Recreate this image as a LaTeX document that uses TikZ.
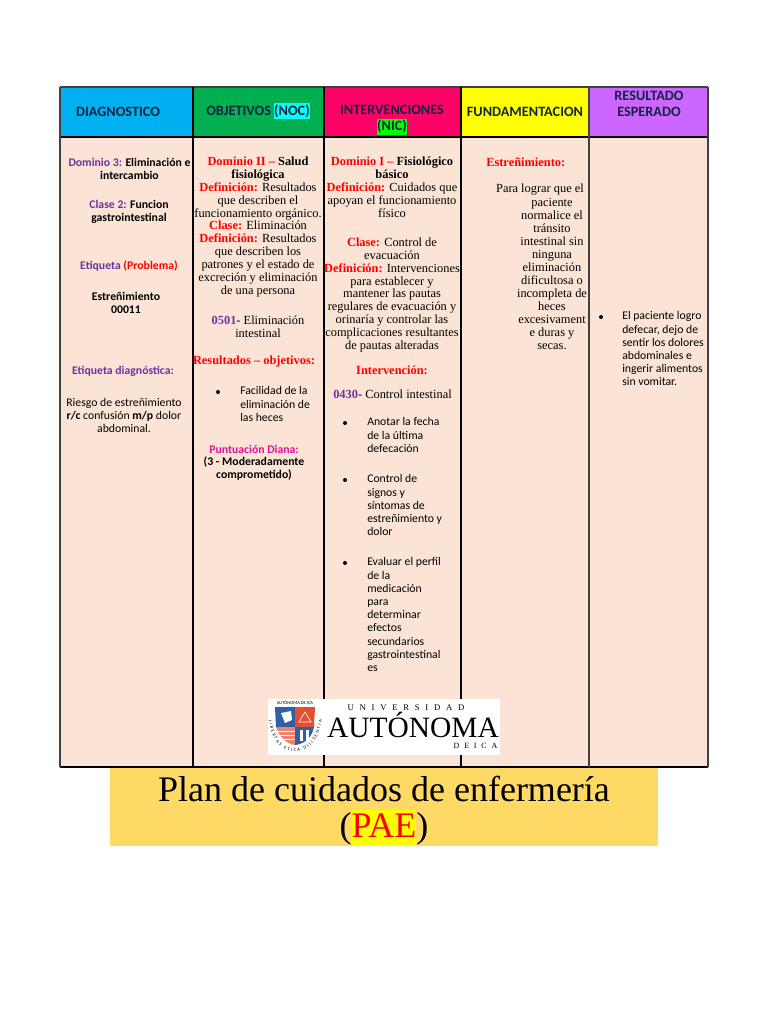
\documentclass[tikz,border=0pt]{standalone}
\usepackage{fontspec}
\usepackage{tikz}
\usetikzlibrary{decorations.text}
\setmainfont{Liberation Serif}
\newfontfamily\bodysans{Carlito}
\definecolor{bluehead}{HTML}{00B0F0}
\definecolor{greenhead}{HTML}{00B050}
\definecolor{pinkhead}{HTML}{FF0066}
\definecolor{yellowhead}{HTML}{FFFF00}
\definecolor{purplehead}{HTML}{CC66FF}
\definecolor{peachcell}{HTML}{FBE4D5}
\definecolor{goldtitle}{HTML}{FFD966}
\definecolor{headink}{HTML}{10253F}
\definecolor{violetink}{HTML}{7030A0}
\definecolor{magentaink}{HTML}{E0109A}
\definecolor{crestblue}{HTML}{2F5FA8}
\definecolor{crestred}{HTML}{E2502F}
\definecolor{nocmark}{HTML}{00FFFF}
\definecolor{nicmark}{HTML}{00FF00}
\newcommand{\hltext}[2]{{\setlength{\fboxsep}{0pt}\colorbox{#1}{#2}}}
\newcommand{\redb}[1]{\textbf{\textcolor{red}{#1}}}
\newcommand{\vlt}[1]{\textbf{\textcolor{violetink}{#1}}}
\tikzset{headtext/.style = {inner sep = 0, align = center, text = headink, font = \bodysans\bfseries\fontsize{10.7}{12}\selectfont}}
\tikzset{sanstext/.style = {inner sep = 0, align = center, font = \bodysans\fontsize{8.8}{9.9}\selectfont}}
\tikzset{seriftext/.style = {inner sep = 0, align = center, font = \fontsize{9.3}{9.7}\selectfont}}
\tikzset{listtext/.style = {sanstext, align = left, anchor = north west}}
\tikzset{bulletmark/.style = {fill, circle, inner sep = 0, minimum size = 3}}
\begin{document}
\begin{tikzpicture}[x = 0.75pt, y = -0.75pt]
    \useasboundingbox (0, 0) rectangle (768, 1024);

    \fill [peachcell] (60, 137) rectangle (708, 767);
    \fill [bluehead] (60, 87) rectangle (193, 137);
    \fill [greenhead] (193, 87) rectangle (324, 137);
    \fill [pinkhead] (324, 87) rectangle (461, 137);
    \fill [yellowhead] (461, 87) rectangle (589, 137);
    \fill [purplehead] (589, 87) rectangle (708, 137);
    \draw [line width = 0.8pt, black!75] (60, 87) -- (708, 87);
    \draw [line width = 1.1pt] (60, 137) -- (708, 137);
    \draw [line width = 1.1pt] (60, 767) -- (708, 767);
    \draw [line width = 1pt, black!75] (60, 87) -- (60, 767);
    \draw [line width = 1.1pt] (193, 87) -- (193, 767);
    \draw [line width = 1.1pt] (324, 87) -- (324, 767);
    \draw [line width = 1.1pt] (461, 87) -- (461, 767);
    \draw [line width = 0.8pt, black!75] (589, 87) -- (589, 767);
    \draw [line width = 0.8pt, black!75] (708, 87) -- (708, 767);

    \node [headtext] (diaghead) at (118, 112) {DIAGNOSTICO};
    \node [headtext] (objhead) at (258, 111) {OBJETIVOS \hltext{nocmark}{\rule[-3pt]{0pt}{12pt}(NOC)}};
    \node [headtext, text width = 130pt] (inthead) at (392, 120) {INTERVENCIONES\\\hltext{nicmark}{\rule[-3pt]{0pt}{12pt}(NIC)}};
    \node [headtext] (funhead) at (525, 112) {FUNDAMENTACION};
    \node [headtext] (reshead) at (649, 104) {RESULTADO\\ESPERADO};

    \node [sanstext] (dominiotres) at (129.5, 169) {\vlt{Dominio 3:} \textbf{Eliminación e}\\\textbf{intercambio}};
    \node [sanstext] (clasedos) at (129, 212) {\vlt{Clase 2:} \textbf{Funcion}\\\textbf{gastrointestinal}};
    \node [sanstext] (etiqueta) at (129, 266.5) {\vlt{Etiqueta} \redb{(Problema)}};
    \node [sanstext] (problema) at (126, 303) {\textbf{Estreñimiento}\\\textbf{00011}};
    \node [sanstext] (etiquetadiag) at (123, 371.5) {\vlt{Etiqueta diagnóstica:}};
    \node [sanstext] (riesgo) at (124, 415.5) {Riesgo de estreñimiento\\\textbf{r/c} confusión \textbf{m/p} dolor\\abdominal.};

    \node [seriftext] (dominiodos) at (258, 227) {\redb{Dominio II –} \textbf{Salud}\\\textbf{fisiológica}\\\redb{Definición:} Resultados\\que describen el\\funcionamiento orgánico.\\\redb{Clase:} Eliminación\\\redb{Definición:} Resultados\\que describen los\\patrones y el estado de\\excreción y eliminación\\de una persona};
    \node [seriftext] (noccode) at (258, 327) {\vlt{0501}- Eliminación\\intestinal};
    \node [seriftext] (resultados) at (254, 362) {\redb{Resultados – objetivos:}};
    \node [bulletmark] (factbullet) at (218, 392) {};
    \node [listtext] (facilidad) at (240, 386.5) {Facilidad de la\\eliminación de\\las heces};
    \node [sanstext] (puntuacion) at (254, 449) {\textbf{\textcolor{magentaink}{Puntuación Diana:}}};
    \node [sanstext] (diana) at (254, 468.5) {\textbf{(3 - Moderadamente}\\\textbf{comprometido)}};

    \node [seriftext] (dominiouno) at (392, 187.5) {\redb{Dominio I –} \textbf{Fisiológico}\\\textbf{básico}\\\redb{Definición:} Cuidados que\\apoyan el funcionamiento\\físico};
    \node [seriftext] (claseint) at (392, 295) {\redb{Clase:} Control de\\evacuación\\\redb{Definición:} Intervenciones\\para  establecer y\\mantener las pautas\\regulares de evacuación y\\orinaría y controlar las\\complicaciones resultantes\\de pautas alteradas};
    \node [seriftext] (intervencion) at (392, 370) {\redb{Intervención:}};
    \node [seriftext, anchor = west] (niccode) at (333, 394) {\vlt{0430}- Control intestinal};
    \node [bulletmark] (anotarbullet) at (345, 423) {};
    \node [listtext] (anotar) at (367, 417.5) {Anotar la fecha\\de la última\\defecación};
    \node [bulletmark] (controlbullet) at (345, 480) {};
    \node [listtext] (control) at (367, 474.5) {Control de\\signos y\\síntomas de\\estreñimiento y\\dolor};
    \node [bulletmark] (evaluarbullet) at (345, 563) {};
    \node [listtext] (evaluar) at (367, 557.5) {Evaluar el perfil\\de la\\medicación\\para\\determinar\\efectos\\secundarios\\gastrointestinal\\es};

    \node [seriftext, anchor = west] (estrenimiento) at (486, 162) {\redb{Estreñimiento:}};
    \node [seriftext] (paralograr) at (540, 190) {Para lograr que el};
    \node [seriftext] (transito) at (552, 274) {paciente\\normalice el\\tránsito\\intestinal sin\\ninguna\\eliminación\\dificultosa o\\incompleta de\\heces\\excesivament\\e duras y\\secas.};

    \node [bulletmark] (esperadobullet) at (601, 317) {};
    \node [listtext] (esperado) at (622, 311.5) {El paciente logro\\defecar, dejo de\\sentir los dolores\\abdominales e\\ingerir alimentos\\sin vomitar.};

    \fill [white] (268, 699) rectangle (500, 755);
    \fill [crestblue] (275, 707) -- (295, 707) -- (295, 727) -- (276, 727) -- cycle;
    \fill [crestred] (295, 707) -- (315, 707) -- (314, 727) -- (295, 727) -- cycle;
    \fill [crestred!70] (276, 727) -- (295, 727) -- (295, 745) .. controls (287, 744) and (280, 738) .. (276, 727);
    \fill [crestblue] (295, 727) -- (314, 727) .. controls (312, 738) and (304, 744) .. (295, 745) -- cycle;
    \draw [white, line width = 0.6pt] (277, 731) -- (295, 731);
    \draw [white, line width = 0.6pt] (279, 735) -- (295, 735);
    \draw [white, line width = 0.6pt] (282, 739) -- (295, 739);
    \fill [white] (281, 713) -- (291, 711) -- (292, 720) -- (285, 723) -- cycle;
    \draw [white, line width = 0.5pt] (299, 722) -- (305, 712) -- (311, 722) -- cycle;
    \fill [white] (300, 730) rectangle (303, 741);
    \fill [white] (306, 730) rectangle (309, 741);
    \node [inner sep = 0, font = \bodysans\fontsize{3.4}{3.6}\selectfont] (crestname) at (295, 702.5) {AUTÓNOMA DE ICA};
    \path [decorate, decoration = {text along path, text align = fit to path, text = {|\bodysans\fontsize{3.4}{3.6}\selectfont|LIBERTAS  ETICA  DILIGENTIA}}] (269, 720) .. controls (272, 745) and (285, 752) .. (295, 752) .. controls (305, 752) and (318, 745) .. (322, 720);
    \node [inner sep = 0, font = \fontsize{6.5}{7}\selectfont] (logouni) at (406, 707.5) {U\hspace{4.3pt}N\hspace{4.3pt}I\hspace{4.3pt}V\hspace{4.3pt}E\hspace{4.3pt}R\hspace{4.3pt}S\hspace{4.3pt}I\hspace{4.3pt}D\hspace{4.3pt}A\hspace{4.3pt}D};
    \node [inner sep = 0, font = \fontsize{22.1}{23}\selectfont] (logoauto) at (413, 725) {AUTÓNOMA};
    \node [inner sep = 0, font = \fontsize{6}{6.5}\selectfont] (logoica) at (475.5, 746) {D\hspace{3.6pt}E\hspace{3.6pt}I\hspace{3.6pt}C\hspace{3.6pt}A};

    \fill [goldtitle] (110, 767.8) rectangle (658, 846);
    \node [inner sep = 0, font = \fontsize{27}{29}\selectfont] (plantitle) at (384, 789) {Plan de cuidados de enfermería};
    \node [inner sep = 0, font = \fontsize{27}{29}\selectfont] (paetitle) at (384, 828) {(\hltext{yellowhead}{\textcolor{red}{\rule[-6.5pt]{0pt}{27pt}PAE}})};
  \end{tikzpicture}
\end{document}
